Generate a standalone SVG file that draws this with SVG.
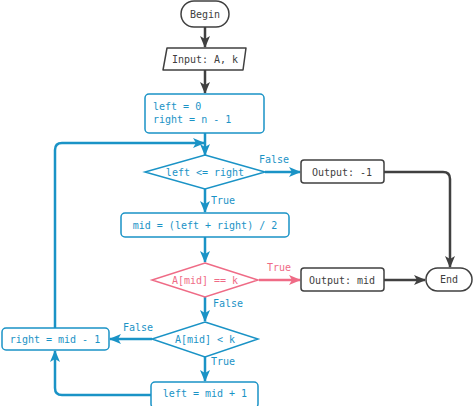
<svg xmlns="http://www.w3.org/2000/svg" width="474" height="406" viewBox="0 0 474 406">
<style>
text{font-family:"DejaVu Sans Mono","Liberation Mono",monospace;font-size:10px;dominant-baseline:central}
.c{text-anchor:middle}
.dk{fill:#fff;stroke:#404040;stroke-width:1.5}
.bl{fill:#fff;stroke:#1a93c6;stroke-width:1.5}
.pk{fill:#fff;stroke:#ef6b86;stroke-width:1.5}
.tdk{fill:#404040}
.tbl{fill:#1a93c6}
.tpk{fill:#ef6b86}
.e{fill:none;stroke-width:2.5}
.edk{stroke:#404040}
.ebl{stroke:#1a93c6}
.epk{stroke:#ef6b86}
</style>
<defs>
<marker id="ad" markerUnits="userSpaceOnUse" markerWidth="12" markerHeight="12" viewBox="0 0 12 12" refX="11" refY="6" orient="auto"><path d="M0,1 L12,6 L0,11 L3,6 z" fill="#404040"/></marker>
<marker id="ab" markerUnits="userSpaceOnUse" markerWidth="12" markerHeight="12" viewBox="0 0 12 12" refX="11" refY="6" orient="auto"><path d="M0,1 L12,6 L0,11 L3,6 z" fill="#1a93c6"/></marker>
<marker id="ap" markerUnits="userSpaceOnUse" markerWidth="12" markerHeight="12" viewBox="0 0 12 12" refX="11" refY="6" orient="auto"><path d="M0,1 L12,6 L0,11 L3,6 z" fill="#ef6b86"/></marker>
</defs>
<g id="connectors">
<path class="e edk" d="M205,27 V47" marker-end="url(#ad)"/>
<path class="e edk" d="M205,70 V93" marker-end="url(#ad)"/>
<path class="e ebl" d="M205,133 V155" marker-end="url(#ab)"/>
<path class="e ebl" d="M265,172 H300" marker-end="url(#ab)"/>
<text class="tbl" x="259" y="159">False</text>
<path class="e ebl" d="M205,189 V212" marker-end="url(#ab)"/>
<text class="tbl" x="211" y="200">True</text>
<path class="e ebl" d="M205,237 V262" marker-end="url(#ab)"/>
<path class="e epk" d="M259,280 H300" marker-end="url(#ap)"/>
<text class="tpk" x="267" y="267">True</text>
<path class="e ebl" d="M205,297 V321" marker-end="url(#ab)"/>
<text class="tbl" x="213" y="303">False</text>
<path class="e ebl" d="M152,339 H110" marker-end="url(#ab)"/>
<text class="tbl" x="123" y="327">False</text>
<path class="e ebl" d="M205,357 V381" marker-end="url(#ab)"/>
<text class="tbl" x="211" y="361">True</text>
<path class="e ebl" d="M151,395 H62 Q55,395 55,388 V351" marker-end="url(#ab)"/>
<path class="e ebl" d="M55,328 V150 Q55,143 62,143 H204" marker-end="url(#ab)"/>
<path class="e edk" d="M384,172 H443 Q450,172 450,179 V267" marker-end="url(#ad)"/>
<path class="e edk" d="M384,280 H425" marker-end="url(#ad)"/>
</g>
<g id="begin">
<rect class="dk" x="181" y="1" width="48" height="26" rx="13"/>
<text class="c tdk" x="205" y="14">Begin</text>
</g>
<g id="input">
<path class="dk" d="M167,48 H246 L243,70 H163 Z" stroke-linejoin="round"/>
<text class="c tdk" x="205" y="59">Input: A, k</text>
</g>
<g id="init">
<rect class="bl" x="145" y="94" width="119" height="39" rx="4"/>
<text class="tbl" x="153" y="106">left = 0</text>
<text class="tbl" x="153" y="119">right = n - 1</text>
</g>
<g id="cond1">
<path class="bl" d="M205,155 L265,172 L205,189 L145,172 Z"/>
<text class="c tbl" x="205" y="172">left &lt;= right</text>
</g>
<g id="out1">
<rect class="dk" x="301" y="160" width="83" height="23" rx="3"/>
<text class="c tdk" x="342" y="172">Output: -1</text>
</g>
<g id="mid">
<rect class="bl" x="121" y="213" width="168" height="24" rx="4"/>
<text class="c tbl" x="205" y="225">mid = (left + right) / 2</text>
</g>
<g id="cond2">
<path class="pk" d="M205,263 L258,280 L205,297 L152,280 Z"/>
<text class="c tpk" x="205" y="280">A[mid] == k</text>
</g>
<g id="outmid">
<rect class="dk" x="301" y="268" width="83" height="23" rx="3"/>
<text class="c tdk" x="342" y="280">Output: mid</text>
</g>
<g id="end">
<rect class="dk" x="426" y="268" width="46" height="23" rx="11.5"/>
<text class="c tdk" x="449" y="279.5">End</text>
</g>
<g id="cond3">
<path class="bl" d="M205,322 L258,339 L205,357 L152,339 Z"/>
<text class="c tbl" x="205" y="339">A[mid] &lt; k</text>
</g>
<g id="rightbox">
<rect class="bl" x="2" y="328" width="107" height="22" rx="4"/>
<text class="c tbl" x="55" y="339">right = mid - 1</text>
</g>
<g id="leftbox">
<rect class="bl" x="151" y="382" width="107" height="26" rx="4"/>
<text class="c tbl" x="205" y="393">left = mid + 1</text>
</g>
</svg>
